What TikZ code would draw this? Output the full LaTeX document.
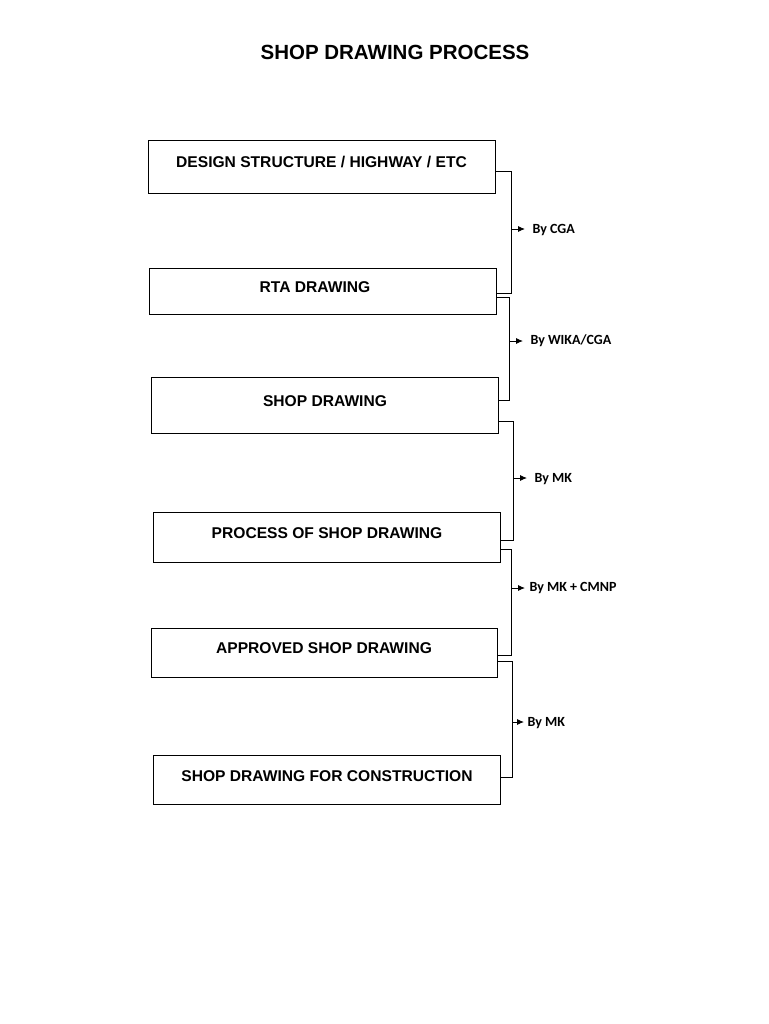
\documentclass[tikz,border=0pt]{standalone}
\usepackage{fontspec}
\setmainfont{Liberation Sans}
\newfontfamily\lblfont{Carlito}
\usetikzlibrary{arrows.meta}
\begin{document}
\begin{tikzpicture}[x=1pt,y=-1pt,
  bx/.style={font=\fontsize{15.6}{17}\selectfont\bfseries},
  conn/.style={line width=0.9pt},
  lbl/.style={anchor=west,font=\lblfont\fontsize{14}{16}\selectfont\bfseries},
  tip/.style={-{Latex[length=7pt,width=6pt]},line width=0.9pt}]
\useasboundingbox (0,0) rectangle (768,1024);
\node[font=\fontsize{20.5}{22}\selectfont\bfseries] (title) at (395,52) {SHOP DRAWING PROCESS};
\draw[thick] (148,140) rectangle (495,193); \node[bx] (b1) at (321.5,162) {DESIGN STRUCTURE / HIGHWAY / ETC};
\draw[thick] (149,268) rectangle (496,314); \node[bx] (b2) at (315,287) {RTA DRAWING};
\draw[thick] (151,377) rectangle (498,433); \node[bx] (b3) at (325,401) {SHOP DRAWING};
\draw[thick] (153,512) rectangle (500,562); \node[bx] (b4) at (327,533) {PROCESS OF SHOP DRAWING};
\draw[thick] (151,628) rectangle (497,677); \node[bx] (b5) at (324,648) {APPROVED SHOP DRAWING};
\draw[thick] (153,755) rectangle (500,804); \node[bx] (b6) at (327,776) {SHOP DRAWING FOR CONSTRUCTION};
% brackets
\draw[conn] (495,171) -| (511,293) -- (496,293);
\draw[tip] (511,229) -- (525,229); \node[lbl] (l1) at (529,230) {By CGA};
\draw[conn] (496,297) -| (509,400) -- (498,400);
\draw[tip] (509,341) -- (523,341); \node[lbl] (l2) at (527,341) {By WIKA/CGA};
\draw[conn] (498,421) -| (513,540) -- (500,540);
\draw[tip] (513,478) -- (527,478); \node[lbl] (l3) at (531,479) {By MK};
\draw[conn] (500,549) -| (511,655) -- (497,655);
\draw[tip] (511,588) -- (525,588); \node[lbl] (l4) at (526,588) {By MK + CMNP};
\draw[conn] (497,661) -| (512,777) -- (500,777);
\draw[tip] (512,722) -- (524,722); \node[lbl] (l5) at (524,723) {By MK};
\end{tikzpicture}
\end{document}
